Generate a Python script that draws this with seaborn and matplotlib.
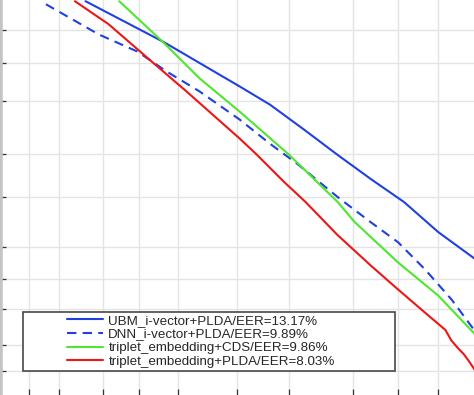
import numpy as np
import matplotlib
matplotlib.use("Agg")
import matplotlib.pyplot as plt
import seaborn as sns
from matplotlib.patches import Rectangle
from statistics import NormalDist

# DET curves: false alarm probability (%) vs miss probability (%)
ubm_fa = [0.35, 1.58, 5.2, 7.84, 11.94, 17.18, 23.67, 31.35, 40.2, 50.4]
ubm_miss = [49.6, 36.2, 23.55, 19.16, 13.98, 9.85, 6.80, 4.62, 2.66, 1.54]

dnn_fa = [0.148, 0.46, 0.97, 1.64, 2.84, 5.2, 7.84, 11.0, 17.18, 23.67, 29.9, 36.7, 43.8, 50.4]
dnn_miss = [48.6, 38.7, 33.4, 27.6, 22.3, 15.94, 11.55, 8.61, 5.04, 3.21, 2.18, 1.24, 0.63, 0.286]

cds_fa = [0.69, 1.58, 2.84, 5.2, 9.98, 17.18, 20.4, 29.9, 40.2, 50.4]
cds_miss = [49.6, 35.9, 25.7, 17.6, 9.85, 4.63, 3.21, 1.44, 0.69, 0.265]

plda_fa = [0.28, 0.56, 1.21, 2.30, 5.2, 6.6, 9.38, 12.1, 17.18, 23.67, 29.9, 36.7,
           42.1, 43.8, 45.7, 47.1, 48.5, 50.4]
plda_miss = [49.6, 42.0, 31.0, 22.3, 12.4, 9.85, 6.47, 4.63, 2.51, 1.35, 0.795, 0.46,
             0.30, 0.227, 0.184, 0.160, 0.133, 0.10]

labels = [
    "UBM_i-vector+PLDA/EER=13.17%",
    "DNN_i-vector+PLDA/EER=9.89%",
    "triplet_embedding+CDS/EER=9.86%",
    "triplet_embedding+PLDA/EER=8.03%",
]

det_ticks = [0.1, 0.2, 0.5, 1, 2, 5, 10, 20, 30, 40]
tick_labels = ["0.1", "0.2", "0.5", "1", "2", "5", "10", "20", "30", "40"]
axis_range = [0.05, 50]

_nd = NormalDist()
_ppf = np.vectorize(_nd.inv_cdf, otypes=[float])
_cdf = np.vectorize(_nd.cdf, otypes=[float])


def probit(p):
    p = np.clip(np.asarray(p, dtype=float) / 100.0, 1e-9, 1 - 1e-9)
    return _ppf(p)


def inv_probit(z):
    return _cdf(np.asarray(z, dtype=float)) * 100.0


sns.set_theme(style="white")
plt.rcParams["font.family"] = ["Liberation Sans", "DejaVu Sans"]

W, H = 474, 395
fig = plt.figure(figsize=(W / 100, H / 100), dpi=100)
ax = fig.add_axes([0, 0, 1, 1])
ax.set_xscale("function", functions=(probit, inv_probit))
ax.set_yscale("function", functions=(probit, inv_probit))

series = [
    (ubm_fa, ubm_miss, "#2040e0", "-"),
    (dnn_fa, dnn_miss, "#2040e0", (0, (4.5, 3))),
    (cds_fa, cds_miss, "#4ee62e", "-"),
    (plda_fa, plda_miss, "#ee1515", "-"),
]
for (fa, miss, col, ls), lab in zip(series, labels):
    sns.lineplot(x=fa, y=miss, sort=False, estimator=None, color=col,
                 linestyle=ls, lw=1.5, ax=ax, label=lab)

ax.set_xlim(axis_range)
ax.set_ylim(axis_range)
ax.set_xticks(det_ticks)
ax.set_xticklabels(tick_labels)
ax.set_yticks(det_ticks)
ax.set_yticklabels(tick_labels)
ax.minorticks_off()
ax.grid(True, color="#e4e4e4", lw=1.0)
ax.set_axisbelow(True)
ax.tick_params(direction="in", length=4.3, width=0.9, color="#333333",
               labelleft=False, labelbottom=False, left=True, bottom=True)
for side in ["top", "right", "bottom"]:
    ax.spines[side].set_visible(False)
ax.spines["left"].set_color("#c4c4c4")
ax.spines["left"].set_linewidth(4)

# legend frame (MATLAB style, wider than its entries)
frame = Rectangle((23 / W, 1 - 371 / H), (395 - 23) / W, (371 - 312) / H,
                  transform=fig.transFigure, facecolor="white",
                  edgecolor="#484848", lw=1.2, zorder=4, clip_on=False)
ax.add_patch(frame)

handles, labs = ax.get_legend_handles_labels()
ax.legend(handles, labs, loc="upper left", frameon=False,
          bbox_to_anchor=(67 / W, 1 - 314.5 / H), bbox_transform=fig.transFigure,
          borderpad=0, borderaxespad=0, handlelength=2.7, handletextpad=0.4,
          labelspacing=0.1, fontsize=9.6).set_zorder(5)

fig.savefig("out.png", dpi=100)
plt.close(fig)
